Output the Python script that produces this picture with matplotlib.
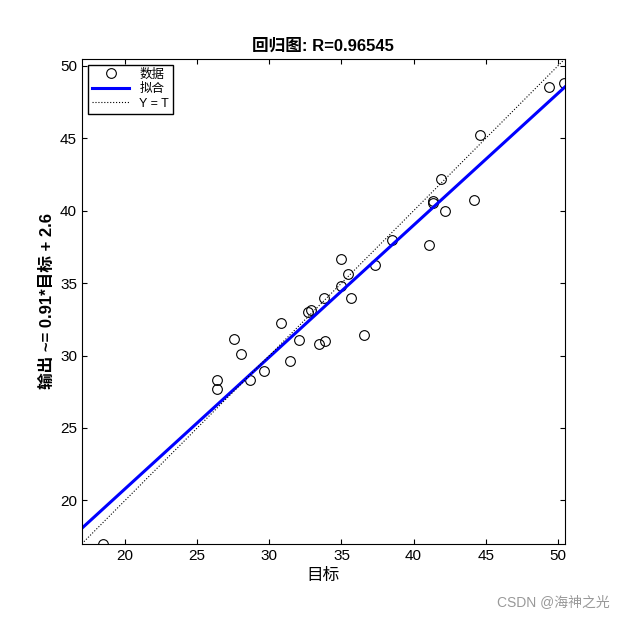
import matplotlib
matplotlib.use('Agg')
import matplotlib.pyplot as plt
import numpy as np

plt.rcParams['font.family'] = ['Liberation Sans', 'Noto Sans CJK SC']

# 目标 / 输出
target = [18.47, 49.38, 50.4, 44.58, 41.88, 41.32, 41.32, 42.15, 44.17, 41.04,
          38.47, 37.36, 35.0, 35.42, 35.0, 35.69, 33.82, 32.92, 32.71, 30.83,
          27.57, 32.08, 28.06, 33.89, 33.47, 36.53, 31.46, 29.65, 28.68, 26.39, 26.39]
output = [16.97, 48.55, 48.8, 45.24, 42.21, 40.69, 40.55, 40.0, 40.76, 37.66,
          38.0, 36.28, 36.69, 35.66, 34.83, 34.0, 34.0, 33.17, 33.03, 32.28,
          31.17, 31.1, 30.14, 30.97, 30.83, 31.45, 29.59, 28.9, 28.28, 28.28, 27.72]
slope, intercept = 0.91, 2.6
xlim = (17.0, 50.5)

fig = plt.figure(figsize=(6.25, 6.25), dpi=100)
ax = fig.add_axes([0.131, 0.13, 0.773, 0.776])
ax.plot(target, output, 'o', mfc='none', mec='black', ms=7, mew=0.8, label='数据')
xs = np.array(xlim)
ax.plot(xs, slope * xs + intercept, color='blue', lw=2.2, label='拟合')
ax.plot(xs, xs, ':', color='black', lw=0.8, label='Y = T')
ax.set_xlim(xlim)
ax.set_ylim(17.0, 50.5)
ax.set_xticks([20, 25, 30, 35, 40, 45, 50])
ax.set_yticks([20, 25, 30, 35, 40, 45, 50])
ax.tick_params(direction='in', labelsize=11, top=True, right=True)
ax.set_title('回归图: R=0.96545', fontsize=12, fontweight='bold')
ax.set_xlabel('目标', fontsize=12)
ax.set_ylabel('输出 ~= 0.91*目标 + 2.6', fontsize=12, fontweight='bold')
leg = ax.legend(loc='upper left', fontsize=9, fancybox=False, edgecolor='black',
                framealpha=1, handlelength=3, borderpad=0.3, labelspacing=0.2)
fig.text(0.975, 0.025, 'CSDN @海神之光', ha='right', va='bottom', fontsize=10, color='#999999')
fig.savefig('out.png', dpi=100, facecolor='white')
